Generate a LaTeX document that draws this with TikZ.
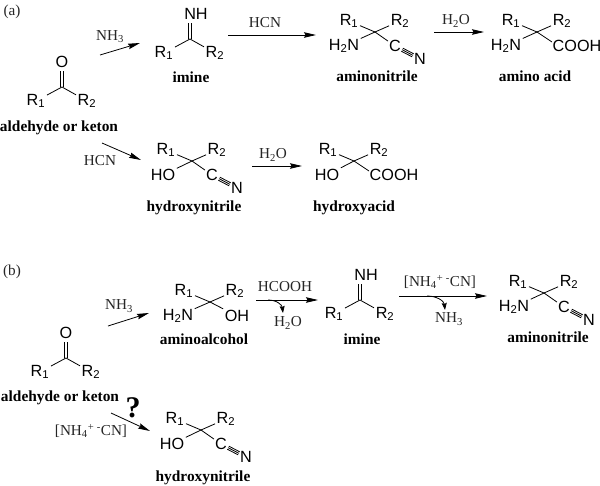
\documentclass[tikz,border=0pt]{standalone}
\usepackage{fontspec}
\setmainfont{Liberation Serif}
\newfontfamily\chemfont{Liberation Sans}
\usetikzlibrary{arrows.meta,calc}
\newcommand{\sbs}[1]{\textsubscript{#1}}
\tikzset{
  atom/.style={font=\chemfont\fontsize{16.2}{18}\selectfont,inner sep=1.5pt,text=black},
  cname/.style={font=\bfseries\fontsize{15.4}{18}\selectfont,inner sep=0pt},
  reagent/.style={font=\fontsize{15.2}{18}\selectfont,inner sep=0pt,text=black!85},
  bond/.style={line width=0.8pt},
  rxn/.style={line width=0.8pt,-{Stealth[length=12pt,width=5.5pt,inset=1.5pt]}},
  side/.style={line width=0.8pt,-{Stealth[length=7pt,width=5pt,inset=1pt]}},
}
% two outer lines parallel to the segment from #1 to #2
\newcommand{\pairlines}[2]{%
  \path (#1) -- (#2) coordinate[pos=0] (pp) coordinate[pos=1] (qq);
  \draw[bond] ($(pp)!1.7pt!90:(qq)$) -- ($(qq)!1.7pt!-90:(pp)$);
  \draw[bond] ($(pp)!1.7pt!-90:(qq)$) -- ($(qq)!1.7pt!90:(pp)$);}
\newcommand{\TrigC}[5]{% prefix, x, y, top position, top text
  \begin{scope}[shift={(#2,#3)}]
    \coordinate (#1c) at (0,0);
    \node[atom] (#1t) at (#4) {#5};
    \node[atom] (#1a) at (-26,14) {R\sbs{1}};
    \node[atom] (#1b) at (25,14) {R\sbs{2}};
    \coordinate (#1u) at (0,-16);
    \pairlines{#1c}{#1u}
    \draw[bond] (#1c) -- (#1a);
    \draw[bond] (#1c) -- (#1b);
  \end{scope}}
\newcommand{\QuatC}[6]{% prefix, x, y, left text, left x offset, right part
  \begin{scope}[shift={(#2,#3)}]
    \coordinate (#1c) at (0,0);
    \node[atom] (#1a) at (-26,-11) {R\sbs{1}};
    \node[atom] (#1b) at (25,-11) {R\sbs{2}};
    \node[atom] (#1l) at (#5,14) {#4};
    \draw[bond] (#1a) -- (#1c);
    \draw[bond] (#1b) -- (#1c);
    \draw[bond] (#1l) -- (#1c);
    #6
  \end{scope}}
\newcommand{\Nitrile}[1]{%
  \node[atom,inner sep=1pt] (#1r) at (20,14) {C};
  \node[atom,inner sep=1pt] (#1n) at (45,27) {N};
  \draw[bond] (#1c) -- (#1r);
  \draw[bond] (#1r) -- (#1n);
  \pairlines{#1r}{#1n}}
\newcommand{\Acid}[1]{%
  \node[atom] (#1r) at (40,14) {COOH};
  \draw[bond] (#1c) -- ($(#1r.west)+(1,-4)$);}
\begin{document}
\begin{tikzpicture}[x=1pt,y=-1pt]
\useasboundingbox (0,0) rectangle (600,485);
\node[reagent] (la) at (12,11.5) {(a)};
\node[reagent] (lb) at (12,271.5) {(b)};
% --- (a) ---
\TrigC{ka}{62}{87}{0,-25}{O}
\node[cname] (kan) at (59,127.5) {aldehyde or keton};
\TrigC{ia}{190}{39}{6,-25}{NH}
\node[cname] (ian) at (191,77) {imine};
\QuatC{ana}{375}{32}{H\sbs{2}N}{-31}{\Nitrile{ana}}
\node[cname] (anan) at (377,76) {aminonitrile};
\QuatC{aa}{537}{32}{H\sbs{2}N}{-31}{\Acid{aa}}
\node[cname] (aan) at (535,76) {amino acid};
\QuatC{ha}{192}{161}{HO}{-29}{\Nitrile{ha}}
\node[cname] (han) at (194,207.5) {hydroxynitrile};
\QuatC{ya}{354}{161}{HO}{-27}{\Acid{ya}}
\node[cname] (yan) at (354,207.5) {hydroxyacid};
% arrows (a)
\coordinate (a1s) at (100,55); \coordinate (a1e) at (140,43);
\draw[rxn] (a1s) -- (a1e);
\node[reagent] (a1l) at (110,36.5) {NH\sbs{3}};
\coordinate (a2s) at (228,35); \coordinate (a2e) at (316,35);
\draw[rxn] (a2s) -- (a2e);
\node[reagent] (a2l) at (265,23) {HCN};
\coordinate (a3s) at (434,32); \coordinate (a3e) at (484,32);
\draw[rxn] (a3s) -- (a3e);
\node[reagent] (a3l) at (456,21) {H\sbs{2}O};
\coordinate (a4s) at (102,143); \coordinate (a4e) at (141,160);
\draw[rxn] (a4s) -- (a4e);
\node[reagent] (a4l) at (100,161) {HCN};
\coordinate (a5s) at (252,166); \coordinate (a5e) at (302,166);
\draw[rxn] (a5s) -- (a5e);
\node[reagent] (a5l) at (273,155) {H\sbs{2}O};
% --- (b) ---
\TrigC{kb}{66}{358}{0,-25}{O}
\node[cname] (kbn) at (60,397.5) {aldehyde or keton};
\QuatC{al}{210}{302}{H\sbs{2}N}{-32}{\node[atom] (alr) at (27,14) {OH}; \draw[bond] (alc) -- (alr);}
\node[cname] (aln) at (204,339) {aminoalcohol};
\TrigC{ib}{360}{300}{6,-25}{NH}
\node[cname] (ibn) at (362,339) {imine};
\QuatC{anb}{544}{293}{H\sbs{2}N}{-30}{\Nitrile{anb}}
\node[cname] (anbn) at (548,337) {aminonitrile};
\QuatC{hb}{201}{430}{HO}{-29}{\Nitrile{hb}}
\node[cname] (hbn) at (203,477.5) {hydroxynitrile};
% arrows (b)
\coordinate (b1s) at (108,326); \coordinate (b1e) at (149,313);
\draw[rxn] (b1s) -- (b1e);
\node[reagent] (b1l) at (119,306) {NH\sbs{3}};
\coordinate (b2s) at (256,300); \coordinate (b2e) at (318,300);
\draw[rxn] (b2s) -- (b2e);
\node[reagent] (b2l) at (285,287) {HCOOH};
\coordinate (b2c) at (268,300); \coordinate (b2d) at (283,313);
\draw[side] (b2c) .. controls (277,300) and (282,305) .. (b2d);
\node[reagent] (b2m) at (288,323) {H\sbs{2}O};
\coordinate (b3s) at (399,296); \coordinate (b3e) at (487,296);
\draw[rxn] (b3s) -- (b3e);
\node[reagent] (b3l) at (440,282) {[NH\sbs{4}\textsuperscript{+}\,\textsuperscript{-}CN]};
\coordinate (b3c) at (427,296); \coordinate (b3d) at (445,310);
\draw[side] (b3c) .. controls (437,296) and (444,301) .. (b3d);
\node[reagent] (b3m) at (449,319) {NH\sbs{3}};
\coordinate (b4s) at (111,413); \coordinate (b4e) at (150,431);
\draw[rxn] (b4s) -- (b4e);
\node[reagent] (b4l) at (91,431) {[NH\sbs{4}\textsuperscript{+}\,\textsuperscript{-}CN]};
\node[font=\bfseries\fontsize{30}{30}\selectfont,inner sep=0pt] (q) at (133,408) {?};
\end{tikzpicture}
\end{document}
